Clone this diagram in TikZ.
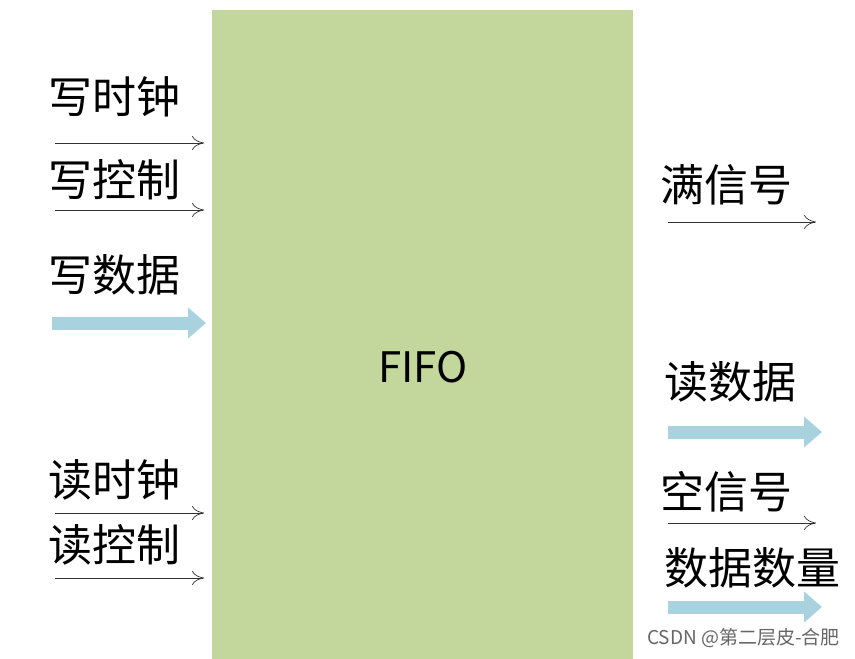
\documentclass[tikz,border=0pt]{standalone}
\usepackage{fontspec}
\setmainfont{Noto Sans CJK SC}
\usetikzlibrary{arrows.meta}
\definecolor{boxgreen}{HTML}{C3D69B}
\definecolor{fatblue}{HTML}{A8D3DE}
\tikzset{
  lbl/.style={anchor=west,inner sep=0,font=\fontsize{44}{46}\selectfont},
  thin/.style={-{To[length=12pt,width=14pt]},line width=0.7pt,black!80},
  fat/.style={-{Triangle[length=18pt,width=30pt]},line width=13pt,fatblue},
}
\begin{document}
\begin{tikzpicture}[x=1pt,y=-1pt]
\useasboundingbox[fill=white] (0,0) rectangle (855,659);
\node[fill=boxgreen,minimum width=421pt,minimum height=649pt,anchor=north west,inner sep=0] (fifo) at (212,10) {};
\node[font=\fontsize{42}{44}\selectfont] (ft) at (423,367) {FIFO};
% left
\node[lbl] (l1) at (48,97) {写时钟};
\node[lbl] (l2) at (48,180) {写控制};
\node[lbl] (l3) at (48,275) {写数据};
\node[lbl] (l4) at (48,480) {读时钟};
\node[lbl] (l5) at (48,545) {读控制};
\coordinate (a1) at (55,143); \coordinate (b1) at (204,143);
\coordinate (a2) at (55,210); \coordinate (b2) at (204,210);
\coordinate (a3) at (52,323); \coordinate (b3) at (206,323);
\coordinate (a4) at (55,513); \coordinate (b4) at (204,513);
\coordinate (a5) at (55,578); \coordinate (b5) at (204,578);
\draw[thin] (a1) -- (b1);
\draw[thin] (a2) -- (b2);
\draw[fat] (a3) -- (b3);
\draw[thin] (a4) -- (b4);
\draw[thin] (a5) -- (b5);
% right
\node[lbl] (r1) at (660,185) {满信号};
\node[lbl] (r2) at (664,382) {读数据};
\node[lbl] (r3) at (660,492) {空信号};
\node[lbl] (r4) at (664,568) {数据数量};
\coordinate (c1) at (668,222); \coordinate (d1) at (816,222);
\coordinate (c2) at (668,432); \coordinate (d2) at (822,432);
\coordinate (c3) at (668,523); \coordinate (d3) at (816,523);
\coordinate (c4) at (668,607); \coordinate (d4) at (822,607);
\draw[thin] (c1) -- (d1);
\draw[fat] (c2) -- (d2);
\draw[thin] (c3) -- (d3);
\draw[fat] (c4) -- (d4);
\node[anchor=east,inner sep=0,font=\fontsize{19}{21}\selectfont,black!60] (wm) at (840,638) {CSDN @第二层皮-合肥};
\end{tikzpicture}
\end{document}
